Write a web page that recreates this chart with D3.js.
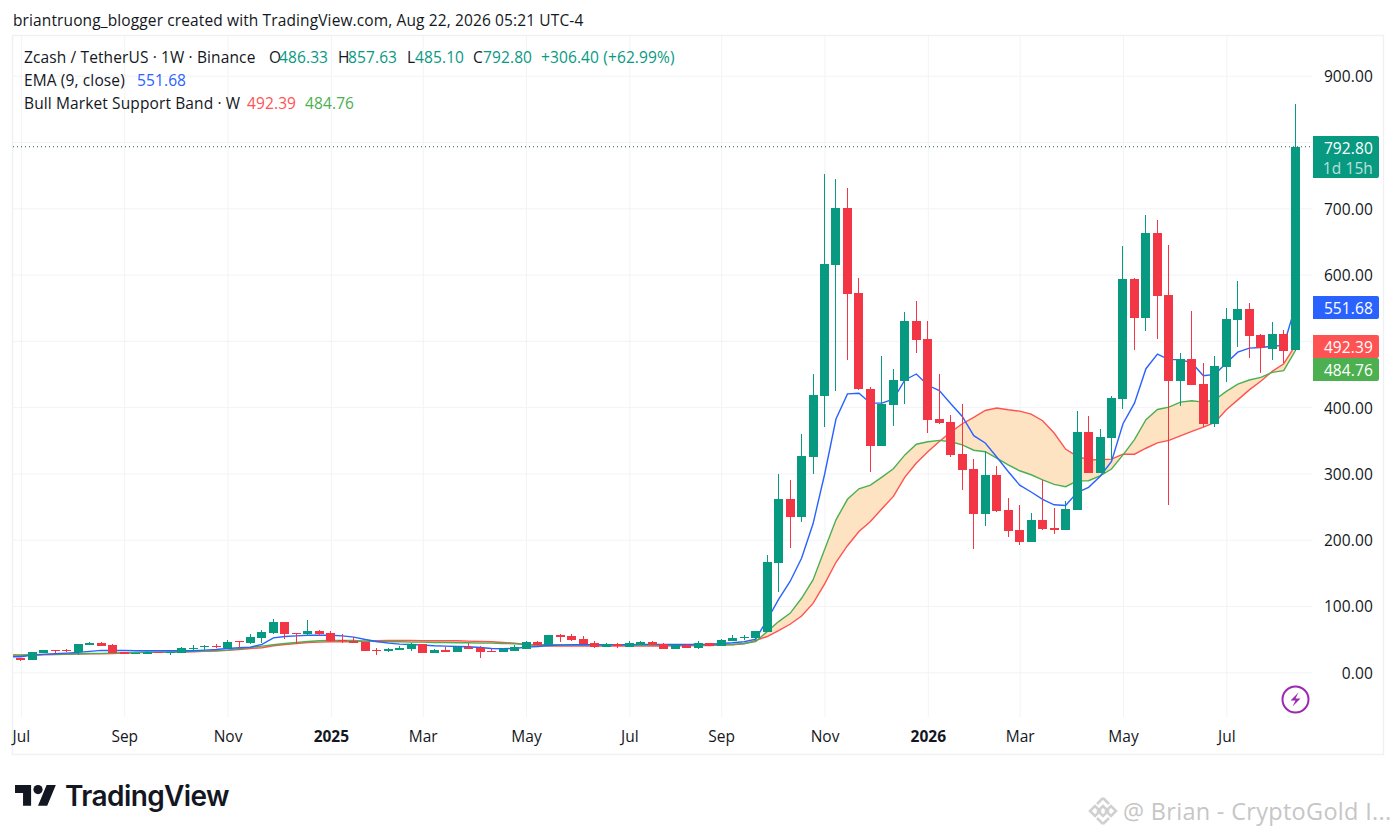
<!DOCTYPE html>
<html>
<head>
<meta charset="utf-8">
<script src="https://cdn.jsdelivr.net/npm/d3@7"></script>
<style>
  html, body { margin: 0; padding: 0; background: #fff; }
  svg { display: block; }
  text { font-family: "Open Sans", sans-serif; fill: #131722; }
</style>
</head>
<body>
<div id="chart"></div>
<script>
// weekly candles, index 0 is the first whole candle on screen
var opens = [22,18.5,29,33.5,33,31,41,44,41,30.5,
  28,28,30,29,29,36.5,38,39.5,36.5,47,
  44,52,59,75.5,59,57.5,62,59,48.5,47,
  45.5,34,32,33.5,35,43,29,33.5,30.5,38,
  36.5,32,30.5,32,35,45.5,41,56,54.5,50,
  44,38,42.5,38,41,45.5,42.5,35,41,36.5,
  44,39.5,47,51,51.8,60.9,165.1,261.8,234.6,325.2,
  417.3,615,700,572.8,427.8,341.8,403.7,440,530.6,503.4,
  382.6,378,329.7,307,239,298,245,215,196.8,230,
  218,215,245,362.9,301,353.7,412.7,594,535,663.4,
  569.6,439.7,473,435.4,375,461,532,548.6,509.4,488.3,
  511,486.33];
var closes = [18.5,30.5,33.5,32.5,32,42.5,44,39.5,28.5,28,
  29.5,30,28.5,30.5,36.5,37,39.5,38,45.5,46,
  53,60.5,75.5,58,57.5,62,57.5,47,47,44,
  32,33,35,36.5,42.5,29,33.5,30.5,38,35,
  30.5,30.5,35,38,45.5,41,56,53,48.5,42.5,
  38,42.5,39.5,44,45.5,41,35,41,36.5,44,
  39.5,48.5,51.5,53,62.4,166.5,261.8,234.6,326.7,418.8,
  616.6,700,571.3,427.8,341.8,405.2,441.5,530.6,501.9,381,
  376.5,328.2,305.6,239,298,243.6,213.4,196.8,230,216.4,
  215,246.6,363,301,355.5,414,594,535,663.4,568,
  439.7,473,433.9,375,462.6,533.5,548.6,507.9,489.8,511,
  485,792.8];
var highs = [22,30.5,33.5,33.5,35,42.5,45.5,45,42.5,30.5,
  29.5,33,30,31,38,41,41.5,42.5,48.5,47,
  57.5,63.5,80,75.5,59,78.5,63.5,62,57.5,53,
  46,36.5,36.5,39.5,44,43,35,37.5,39.5,44,
  39.5,35,36.5,41,46.5,46.5,56,57.5,57.5,54.5,
  47,44,44,47,47.5,47,44,42,42,47,
  44,50,56,56,62.4,177,299.5,290.4,359.9,450.5,
  751,743.5,730,595.5,431,477.7,458,544,560.8,530.6,
  450.5,388.6,405.2,322,334,311.6,263,252.7,240.6,290.4,
  248,258.7,394.6,387,367.5,417.2,643.8,595,690.6,683,
  645.3,482.2,545.6,467,477.7,550,589.6,557.6,510,529,
  516.8,857.63];
var lows = [17,18.5,29,28.5,30,26.5,41,39.5,28.5,28,
  28,28,28.5,26,29,33,33.5,36,36,36.5,
  42.5,44.5,57.5,50,42.5,55,55,46,44,44,
  32,26,30.5,33,32,29,29,30.5,30.5,35,
  21.5,30.5,30,32,35,41,41,45.5,47,42.5,
  36.5,38,36.5,38,41,41,35,35,36.5,35,
  39.5,39.5,47,48.5,47,60.9,121.3,187.8,227,299.5,
  370.5,424.8,471.6,426,302.5,341.8,372,405,482.2,361.4,
  375,325.2,275.3,186,221,242,204.4,192.3,196.8,215,
  209,215,245,301,301,320.5,397.6,486.7,515,503,
  252.6,402,433.9,370.5,370.5,438,491,474.6,452,471.6,
  466.7,485.1];

// indicator lines start one week earlier, off the left edge of the pane
var lineStart = -1;
var emaValues = [23.5,23.5,26,27,28,29,30,31.5,33,33,33,
  32.5,32.5,32.5,32.5,32.5,32.5,33.5,34.5,36,37,
  38,42,52,54,55,56,56,56,55,53,
  49.5,46.5,44,42.5,42,41,40,39.5,39,38.5,
  37.5,36,35.5,36,38,39,40.5,41,41.5,41.5,
  41.5,41.5,41.5,41.5,42,42,42,42,42,42,
  42.5,43.5,44.5,46,50,79,110,137,172,224,
  298,382,420,421,406,406,412,441,450,433,
  425,405,386,357,346,324.7,303,282.4,272,261,
  252.7,251.7,271,279,295.4,318,375,406,458,480,
  471.7,471.7,466.7,447.5,449.5,466.7,483,489,490,492,
  493,551.68];
var bandUpper = [26,25.5,26,26.3,26.6,27,27.5,27.8,28,28.3,29,
  29.5,30,30,30.3,30.6,31,31.5,32,33,34.5,
  36,37,40,42,43.5,45,45.5,46,46,46,
  47,47.5,48,48,48,47.5,47.5,47.5,47.5,47,
  46.5,46,45,44,42,40.5,39.5,39.5,39.5,39.5,
  39.5,39.5,39.5,39.5,39.5,39.5,39.5,40,40,40.5,
  40.5,41,41.5,43,48,54,63,72.5,85,104,
  133,166,191,212.4,227.5,246.7,265.3,294.5,315.6,332.7,
  348.3,362.4,375,384.6,395,398.7,396,394,389.6,379.5,
  361,336.8,325.7,320.6,320.6,321.6,329,329,338,346,
  349.8,356.8,363.4,370,376.9,396,411,426,439,454,
  465.5,492.39];
var bandLower = [26.5,26,26.5,27,27.3,27.6,28,28.4,28.6,29,29.5,
  30,30.3,30.5,30.6,31,31.5,32,32.7,33.5,35.5,
  37.5,39.5,41.5,43.5,45,46.5,47.5,48,48,48,
  47,46.5,46,46,45.5,45.5,45,45,44.5,44.5,
  44,44,43.5,43,42,41.5,41.5,41.5,41,41,
  41,41,41,41,41,41,41,41,41,41,
  41.5,42,42,43.5,46.3,61.4,76.5,89,111.7,139.4,
  184.7,230,261,276.9,282.4,294.5,307,328,344,347.8,
  349.8,347.8,343,335,332.7,323,313,304,298,290.4,
  283.4,280,288.8,289,296.4,306.6,328,351,381,396.5,
  400,407.6,409.6,407.6,411,423.7,434.8,441,444.8,452.5,
  455,484.76];

var priceTicks = [0,100,200,300,400,500,600,700,800,900];
var priceLabels = [0,100,200,300,400,600,700,900]; // 500 and 800 sit under the price tags
var timeTickIndex = [0,9,18,27,35,44,53,61,70,79,87,96,105];
var timeTickLabels = ["Jul","Sep","Nov","2025","Mar","May","Jul","Sep","Nov","2026","Mar","May","Jul"];

var headerText = "briantruong_blogger created with TradingView.com, Aug 22, 2026 05:21 UTC-4";
var ohlcNames = ["O","H","L","C"];
var ohlcValues = ["486.33","857.63","485.10","792.80"];
var changeText = "+306.40 (+62.99%)";

var upColor = "#089981", downColor = "#F23645", emaColor = "#2962FF",
  bandUpColor = "#FF5252", bandDownColor = "#4CAF50", gridColor = "#f2f3f6";
var labelSize = "15.5px", labelSpacing = "0.12px";

var W = 1397, H = 836;
var pane = { left: 13, right: 1312, top: 36, bottom: 717 };

var svg = d3.select("#chart").append("svg").attr("width", W).attr("height", H);

var xScale = d3.scaleLinear().domain([0, 111]).range([20.9, 1295.2]);
var yScale = d3.scaleLinear().domain([0, 900]).range([672.3, 75.7]);

// outer frame
svg.append("rect")
  .attr("x", 12.5).attr("y", 35.5).attr("width", 1371).attr("height", 719)
  .attr("fill", "none").attr("stroke", "#f0f1f4").attr("stroke-width", 1.5);

// gridlines
svg.append("g")
  .attr("class", "grid")
  .attr("transform", "translate(0," + pane.bottom + ")")
  .call(d3.axisBottom(xScale).tickValues(timeTickIndex).tickSize(-(pane.bottom - pane.top)).tickFormat(""))
  .call(function(g) { g.select(".domain").remove(); })
  .selectAll("line").attr("stroke", gridColor);

svg.append("g")
  .attr("class", "grid")
  .attr("transform", "translate(" + pane.left + ",0)")
  .call(d3.axisRight(yScale).tickValues(priceTicks).tickSize(pane.right - pane.left).tickFormat(""))
  .call(function(g) { g.select(".domain").remove(); })
  .selectAll("line").attr("stroke", gridColor);

svg.append("clipPath").attr("id", "paneClip").append("rect")
  .attr("x", pane.left).attr("y", pane.top)
  .attr("width", pane.right - pane.left).attr("height", pane.bottom - pane.top);

var plot = svg.append("g").attr("clip-path", "url(#paneClip)");

// last price dotted line
plot.append("line")
  .attr("x1", pane.left).attr("x2", pane.right)
  .attr("y1", yScale(closes[111])).attr("y2", yScale(closes[111]))
  .attr("stroke", "#0a6b5b").attr("stroke-width", 1).attr("stroke-dasharray", "1 3");

// support band
var bandArea = d3.area()
  .x(function(d, i) { return xScale(i + lineStart); })
  .y0(function(d, i) { return yScale(bandUpper[i]); })
  .y1(function(d, i) { return yScale(bandLower[i]); });

plot.append("path").datum(bandUpper)
  .attr("d", bandArea).attr("fill", "#fde3c1");

function lineFor(values, color) {
  var line = d3.line()
    .x(function(d, i) { return xScale(i + lineStart); })
    .y(function(d) { return yScale(d); });
  plot.append("path").datum(values)
    .attr("d", line).attr("fill", "none")
    .attr("stroke", color).attr("stroke-width", 1.4);
}
lineFor(bandUpper, bandUpColor);
lineFor(bandLower, bandDownColor);
lineFor(emaValues, emaColor);

// candles
var candles = opens.map(function(o, i) {
  return { i: i, open: o, close: closes[i], high: highs[i], low: lows[i] };
});

function candleColor(d) { return d.close >= d.open ? upColor : downColor; }

var candle = plot.selectAll("g.candle").data(candles).enter().append("g")
  .attr("class", "candle")
  .attr("shape-rendering", "crispEdges")
  .attr("fill", candleColor);

candle.append("rect")
  .attr("x", function(d) { return Math.floor(xScale(d.i)); })
  .attr("width", 1)
  .attr("y", function(d) { return yScale(d.high); })
  .attr("height", function(d) { return yScale(d.low) - yScale(d.high); });

candle.append("rect")
  .attr("x", function(d) { return Math.floor(xScale(d.i)) - 4; })
  .attr("width", 9)
  .attr("y", function(d) { return yScale(Math.max(d.open, d.close)); })
  .attr("height", function(d) { return Math.max(1, Math.abs(yScale(d.open) - yScale(d.close))); });

// price axis
var priceAxis = svg.append("g")
  .attr("transform", "translate(1373,1)")
  .call(d3.axisLeft(yScale).tickValues(priceLabels).tickSize(0).tickPadding(0).tickFormat(d3.format(".2f")));
priceAxis.select(".domain").remove();
priceAxis.selectAll("text")
  .style("font-family", "'Open Sans', sans-serif").style("font-size", labelSize)
  .style("letter-spacing", labelSpacing).attr("fill", "#131722");

// price tags
var tagValues = [emaValues[112], bandUpper[112], bandLower[112]];
var tagColors = [emaColor, bandUpColor, bandDownColor];
var tagTops = [296, 335, 358];

function tagBox(y, h, color) {
  svg.append("path")
    .attr("d", "M1313," + y + "H1377q2,0 2,2V" + (y + h - 2) + "q0,2 -2,2H1313Z")
    .attr("fill", color);
}
function tagText(y, str, opacity) {
  svg.append("text").attr("x", 1373).attr("y", y).attr("text-anchor", "end")
    .style("font-size", labelSize).style("letter-spacing", labelSpacing)
    .style("fill", "#fff").style("fill-opacity", opacity).text(str);
}
tagBox(136, 42, upColor);
tagText(154, closes[111].toFixed(2), 1);
tagText(174, "1d 15h", 0.72);

tagValues.forEach(function(v, k) {
  tagBox(tagTops[k], 23, tagColors[k]);
  tagText(tagTops[k] + 18, v.toFixed(2), 1);
});

// time axis
var timeAxis = svg.append("g")
  .attr("transform", "translate(0,731)")
  .call(d3.axisBottom(xScale).tickValues(timeTickIndex).tickSize(0).tickPadding(0)
    .tickFormat(function(d, i) { return timeTickLabels[i]; }));
timeAxis.select(".domain").remove();
timeAxis.selectAll("text")
  .style("font-family", "'Open Sans', sans-serif").style("font-size", labelSize)
  .style("font-weight", function(d, i) { return /^\d/.test(timeTickLabels[i]) ? 700 : 400; })
  .attr("fill", "#131722");

// header and legend
function legendText(x, y, str, color) {
  svg.append("text").attr("x", x).attr("y", y).style("font-size", labelSize)
    .style("letter-spacing", labelSpacing).style("fill", color || "#131722").text(str);
}
legendText(13, 26, headerText);
legendText(24, 63, "Zcash / TetherUS · 1W · Binance");
var nameX = [269, 338, 407, 473], valueX = [279, 348, 415, 483];
ohlcNames.forEach(function(n, k) {
  legendText(nameX[k], 63, n);
  legendText(valueX[k], 63, ohlcValues[k], upColor);
});
legendText(541, 63, changeText, upColor);
legendText(24, 86, "EMA (9, close)");
legendText(137, 86, emaValues[112].toFixed(2), emaColor);
legendText(24, 109, "Bull Market Support Band · W");
legendText(247, 109, bandUpper[112].toFixed(2), bandUpColor);
legendText(305, 109, bandLower[112].toFixed(2), bandDownColor);

// lightning badge
var badge = svg.append("g").attr("transform", "translate(1295.5,699.5)");
badge.append("circle").attr("r", 13).attr("fill", "#fff").attr("stroke", "#9c27b0").attr("stroke-width", 2);
badge.append("path").attr("d", "M3,-7L-5,1H0L-3,7L5,-1H0Z").attr("fill", "#9c27b0");

// TradingView logo
var logo = svg.append("g").attr("transform", "translate(15,780.4) scale(1.15)");
logo.append("path").attr("d", "M14 22H7V11H0V4h14v18zM28 22h-8l7.5-18h8L28 22z").attr("fill", "#131722");
logo.append("circle").attr("cx", 20).attr("cy", 8).attr("r", 4).attr("fill", "#131722");
svg.append("text").attr("x", 65).attr("y", 806)
  .style("font-family", "Inter, sans-serif").style("font-size", "28px").style("font-weight", 600)
  .style("letter-spacing", "-0.6px").text("TradingView");

// watermark
var mark = svg.append("g").attr("transform", "translate(1103,811)").attr("fill", "none")
  .attr("stroke", "#d0d0d0").attr("stroke-width", 2.5);
mark.append("path").attr("d", "M0,-13L6,-7M0,-13L-6,-7M0,13L6,7M0,13L-6,7M-13,0L-8,-5L-3,0L-8,5ZM13,0L8,-5L3,0L8,5ZM0,-5L5,0L0,5L-5,0Z");
svg.append("text").attr("x", 1123).attr("y", 820)
  .style("font-size", "23.5px").style("letter-spacing", "0.3px").style("fill", "#c6c6c6")
  .text("@ Brian - CryptoGold I...");
</script>
</body>
</html>
